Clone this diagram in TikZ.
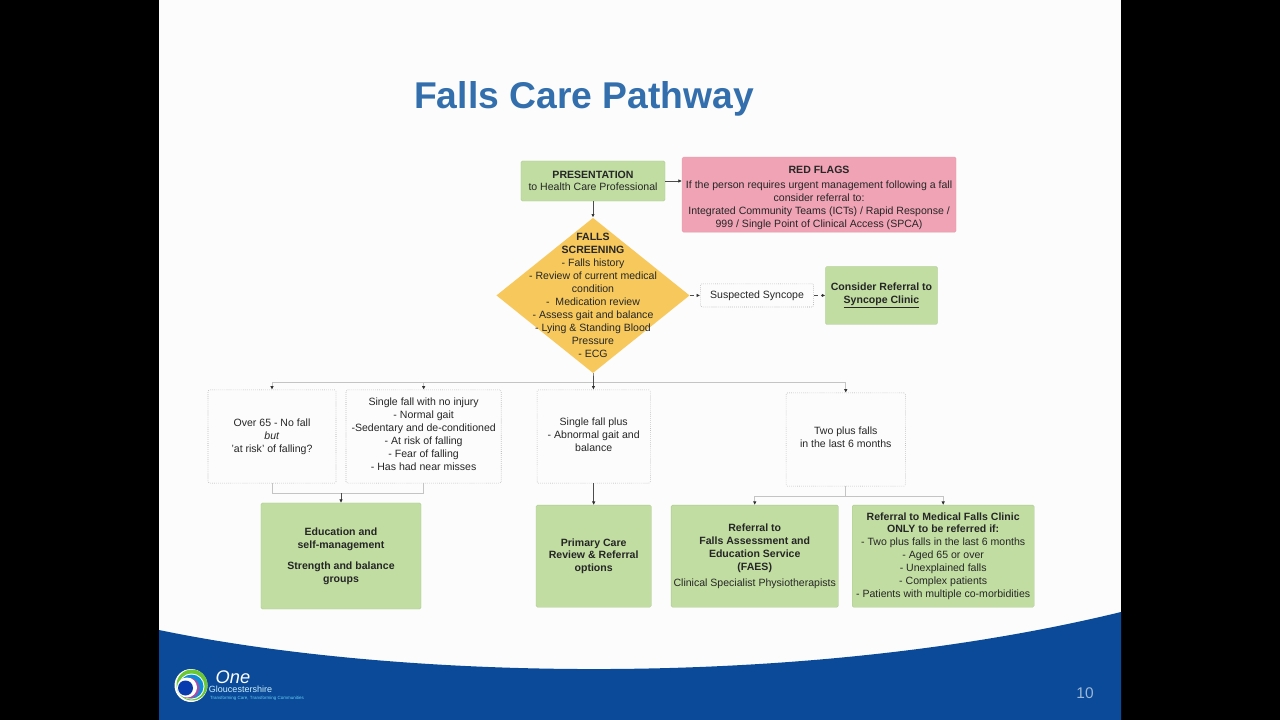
\documentclass[tikz,border=0pt]{standalone}
\usepackage{fontspec}
\setmainfont{Liberation Sans}
\usetikzlibrary{shapes,arrows.meta}
\definecolor{boxgreen}{HTML}{C1DDA2}
\definecolor{boxred}{HTML}{EFA3B5}
\definecolor{boxyellow}{HTML}{F7C95C}
\definecolor{bandblue}{HTML}{0A4A98}
\definecolor{titleblue}{HTML}{336FAD}
\definecolor{dotgrey}{HTML}{A0A0A0}
\definecolor{linegrey}{HTML}{C4C4C4}
\definecolor{inktext}{HTML}{262626}
\tikzstyle{every node}=[font=\fontsize{7.5}{9.2}\selectfont, text=inktext]
\tikzstyle{green box} = [rectangle, fill=boxgreen, draw=boxgreen!90!black, line width=0.2pt,
  rounded corners=1pt, align=center, inner sep=0pt]
\tikzstyle{red box} = [rectangle, fill=boxred, draw=boxred!95!black, line width=0.2pt,
  rounded corners=1pt, align=center, inner sep=0pt]
\tikzstyle{dots box} = [rectangle, draw=dotgrey, densely dotted, line width=0.4pt,
  rounded corners=1pt, align=center, inner sep=0pt]
\tikzstyle{line} = [draw=linegrey, line width=0.5pt, -{Latex[length=2.5pt,width=2.5pt,color=black!80]}]
\tikzstyle{dark line} = [draw=black!70, line width=0.5pt, -{Latex[length=2.5pt,width=2.5pt,color=black!80]}]
\tikzstyle{plain line} = [draw=linegrey, line width=0.5pt]

\begin{document}
\begin{tikzpicture}[x=0.025cm, y=-0.025cm]

  % slide
  \fill [black] (0,0) rectangle (1280,720);
  \fill [white!99!black] (159,0) rectangle (1121,720);
  \fill [bandblue] (159,630) .. controls (400,680) and (800,690) .. (1121,612)
    -- (1121,720) -- (159,720) -- cycle;
  \node (title) at (584,98.5) [font=\bfseries\fontsize{26.5}{30}\selectfont, text=titleblue] {Falls Care Pathway};
  \node (pagenum) at (1085,693.5) [font=\fontsize{11}{13}\selectfont, text=white!60!bandblue] {10};

  % logo
  \fill [white] (191,685.5) circle (16.5);
  \fill [green!45!olive!80!white] (192,685) circle (15.5);
  \fill [white] (191.5,686.5) circle (13);
  \fill [cyan!75!blue] (191.5,686.5) circle (12);
  \fill [violet!70!white] (189,688) circle (10.5);
  \fill [white] (187,687.5) circle (10);
  \fill [bandblue!80!blue] (185.5,688) circle (7.5);
  \node (one) at (233,677) [inner sep=0pt, font=\itshape\fontsize{13}{14}\selectfont, text=white] {One};
  \node (county) at (240.5,689.5) [inner sep=0pt, font=\fontsize{6.4}{7}\selectfont, text=white!80!cyan] {Gloucestershire};
  \node (strap) at (257,698.5) [inner sep=0pt, font=\fontsize{3.2}{4}\selectfont, text=cyan!60!white] {Transforming Care, Transforming Communities};

  \node [green box, minimum width=3.6cm, minimum height=1cm] at (593,181) (presentation)
    {\textbf{PRESENTATION}\\[-0.5pt]to Health Care Professional};
  \node [red box, minimum width=6.85cm, minimum height=1.875cm, right of=presentation,
    node distance=5.65cm, yshift=-0.34cm] (redflags)
    {\rule{0pt}{9.6pt}\textbf{RED FLAGS}\\[1.5pt]If the person requires urgent management following a fall\\consider referral to:\\Integrated Community Teams (ICTs) / Rapid Response /\\999 / Single Point of Clinical Access (SPCA)};
  \node [diamond, fill=boxyellow, inner sep=0pt, minimum width=4.83cm, minimum height=3.88cm,
    below of=presentation, node distance=2.86cm] (screening) {};
  \node [align=center, inner sep=0pt] at (screening) (screentext)
    {\textbf{FALLS}\\\textbf{SCREENING}\\- Falls history\\- Review of current medical\\condition\\-\ \ Medication review\\- Assess gait and balance\\- Lying \& Standing Blood\\Pressure\\- ECG};
  \node [dots box, minimum width=2.83cm, minimum height=0.58cm, right of=screening,
    node distance=4.1cm] (syncope) {Suspected Syncope};
  \node [green box, minimum width=2.8cm, minimum height=1.45cm, right of=syncope,
    node distance=3.11cm] (clinic) {\textbf{Consider Referral to}\\\textbf{\underline{Syncope Clinic}}};

  \node [dots box, minimum width=3.2cm, minimum height=2.33cm] at (272,436.5) (over65)
    {Over 65 - No fall\\\textit{but}\\'at risk' of falling?\\[-7.8pt]};
  \node [dots box, minimum width=3.88cm, minimum height=2.33cm, right of=over65,
    node distance=3.79cm] (single)
    {Single fall with no injury\\- Normal gait\\-Sedentary and de-conditioned\\- At risk of falling\\- Fear of falling\\- Has had near misses\\[-6.35pt]};
  \node [dots box, minimum width=2.83cm, minimum height=2.33cm, right of=single,
    node distance=4.25cm] (plus) {Single fall plus\\- Abnormal gait and\\balance\\[-6.35pt]};
  \node [dots box, minimum width=2.98cm, minimum height=2.33cm, right of=plus,
    node distance=6.3cm, yshift=-0.075cm] (twoplus) {Two plus falls\\in the last 6 months\\[-6.35pt]};

  \node [green box, minimum width=4cm, minimum height=2.65cm] at (341,556) (education)
    {\textbf{Education and}\\\textbf{self-management}\\[6pt]\textbf{Strength and balance}\\\textbf{groups}};
  \node [green box, minimum width=2.88cm, minimum height=2.55cm, below of=plus,
    node distance=2.99cm] (primary) {\textbf{Primary Care}\\\textbf{Review \& Referral}\\\textbf{options}\\[-7.8pt]};
  \node [green box, minimum width=4.18cm, minimum height=2.55cm, right of=primary,
    node distance=4.025cm] (faes)
    {\textbf{Referral to}\\\textbf{Falls Assessment and}\\\textbf{Education Service}\\\textbf{(FAES)}\\[2pt]Clinical Specialist Physiotherapists};
  \node [green box, minimum width=4.55cm, minimum height=2.55cm, right of=faes,
    node distance=4.71cm] (medical)
    {\textbf{Referral to Medical Falls Clinic}\\\textbf{ONLY to be referred if:}\\- Two plus falls in the last 6 months\\- Aged 65 or over\\- Unexplained falls\\- Complex patients\\- Patients with multiple co-morbidities};

  % bus lines
  \coordinate (busmid) at (screening.south |- 0,382);
  \coordinate (joinmid) at (education.north |- 0,493);
  \coordinate (splitmid) at (twoplus.south |- 0,496);

  \path [dark line] (presentation) -- (screening);
  \path [dark line] (presentation.east) -- (presentation.east -| redflags.west);
  \path [dark line, densely dashed] (screening) -- (syncope);
  \path [dark line, densely dashed] (syncope) -- (clinic);

  \path [line] (busmid) -| (over65);
  \path [line] (busmid) -| (single);
  \path [line] (busmid) -| (twoplus);
  \path [dark line] (screening) -- (plus);

  \path [plain line] (over65) |- (joinmid);
  \path [plain line] (single) |- (joinmid);
  \path [dark line] (joinmid) -- (education);
  \path [dark line] (plus) -- (primary);

  \path [plain line] (twoplus) -- (splitmid);
  \path [line] (splitmid) -| (faes);
  \path [line] (splitmid) -| (medical);

\end{tikzpicture}
\end{document}
